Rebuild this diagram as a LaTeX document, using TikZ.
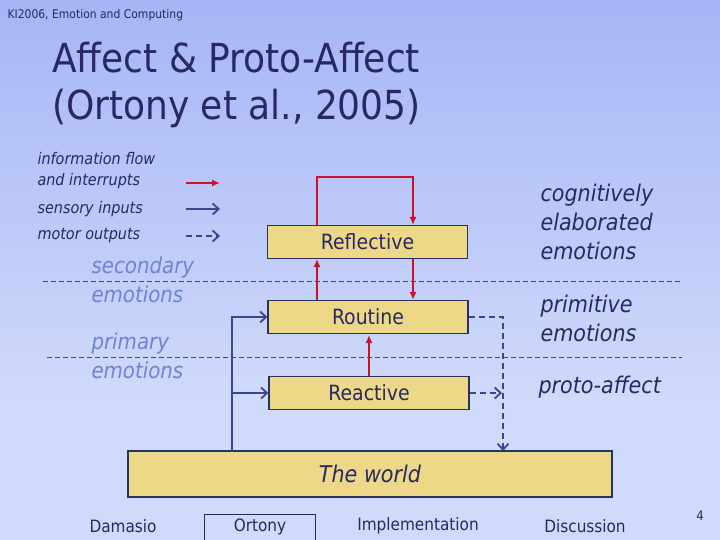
\documentclass[tikz,border=0pt]{standalone}
\usepackage{fontspec}
\setmainfont{DejaVu Sans Condensed}
\usetikzlibrary{arrows.meta}
\definecolor{bgtop}{RGB}{166,182,246}
\definecolor{bgbot}{RGB}{208,218,250}
\definecolor{boxf}{RGB}{236,216,134}
\definecolor{navy}{RGB}{40,40,100}
\definecolor{lite}{RGB}{110,130,215}
\definecolor{lnav}{RGB}{60,70,140}
\definecolor{redl}{RGB}{200,20,40}
\tikzset{
 lay/.style={draw=lnav!70!black,fill=boxf,line width=1.2pt,minimum height=33pt,inner sep=0pt,text=navy,font=\fontsize{21}{21}\selectfont},
 red/.style={draw=redl,line width=1.6pt,-{Latex[length=8pt,width=7pt]}},
 sens/.style={draw=lnav,line width=1.8pt,-{Straight Barb[length=6pt,width=11pt]}},
 mot/.style={draw=lnav,line width=1.8pt,dash pattern=on 6pt off 4pt,-{Straight Barb[length=6pt,width=11pt]}},
 leg/.style={text=navy,font=\itshape\fontsize{16}{21}\selectfont,anchor=west,align=left},
 rlab/.style={text=navy,font=\itshape\fontsize{23}{29}\selectfont,anchor=west,align=left},
 llab/.style={text=lite,font=\itshape\fontsize{22}{29}\selectfont,anchor=west,align=left},
 nav/.style={text=navy,font=\fontsize{17}{17}\selectfont},
 sep/.style={draw=lnav,line width=1pt,dash pattern=on 5pt off 3pt}
}
\begin{document}
\begin{tikzpicture}[x=1pt,y=-1pt]
\useasboundingbox (0,0) rectangle (720,540);
\fill[bgbot] (0,400) rectangle (720,540);
\shade[top color=bgtop,bottom color=bgbot] (0,0) rectangle (720,400);
\node[anchor=west,text=navy,font=\fontsize{12}{12}\selectfont] (hdr) at (4,15) {KI2006, Emotion and Computing};
\node[anchor=north west,text=navy,font=\fontsize{40}{47}\selectfont,align=left,inner sep=0pt] (title) at (52,42) {Affect \& Proto-Affect\\(Ortony et al., 2005)};
\node[leg] (l1) at (34,171) {information flow\\and interrupts};
\node[leg] (l2) at (34,209) {sensory inputs};
\node[leg] (l3) at (34,236) {motor outputs};
\coordinate (a1) at (186,183); \coordinate (b1) at (220,183);
\coordinate (a2) at (186,209); \coordinate (b2) at (220,209);
\coordinate (a3) at (186,236); \coordinate (b3) at (220,236);
\draw[red] (a1) -- (b1);
\draw[sens] (a2) -- (b2);
\draw[mot] (a3) -- (b3);
\coordinate (s1l) at (43,281); \coordinate (s1r) at (680,281);
\coordinate (s2l) at (47,357); \coordinate (s2r) at (682,357);
\draw[sep] (s1l) -- (s1r);
\draw[sep] (s2l) -- (s2r);
\node[llab] (sec) at (88,280) {secondary\\emotions};
\node[llab] (pri) at (88,356) {primary\\emotions};
\node[rlab] (cog) at (537,222) {cognitively\\elaborated\\emotions};
\node[rlab] (prim) at (537,318) {primitive\\emotions};
\node[rlab] (pa) at (535,387) {proto-affect};
\node[lay,minimum width=200pt] (refl) at (367.5,242) {Reflective};
\node[lay,minimum width=200pt] (rout) at (368,317) {Routine};
\node[lay,minimum width=200pt] (react) at (369,393) {Reactive};
\node[lay,minimum width=484pt,minimum height=46pt,font=\itshape\fontsize{23}{23}\selectfont] (world) at (370,474) {The world};
% red loops
\draw[red] (317,225) |- (413,177) -- (413,225);
\draw[red] (317,300) -- (317,259);
\draw[red] (413,259) -- (413,300);
\draw[red] (369,376) -- (369,335);
% sensory
\coordinate (sb) at (232,451);
\draw[sens] (sb) |- (rout.west);
\draw[sens] (232,393) -- (react.west);
% motor
\coordinate (mx) at (503,317);
\draw[mot] (rout.east) -- (mx) -- (503,451);
\draw[mot] (react.east) -- (502,393);
% navigation
\node[nav] (n1) at (123,526) {Damasio};
\node[nav,draw=navy,line width=1pt,minimum width=111pt,minimum height=26pt,inner sep=0pt] (n2) at (260,527) {Ortony};
\node[nav] (n3) at (418,526) {Implementation};
\node[nav] (n4) at (585,526) {Discussion};
\node[text=navy,font=\fontsize{13}{13}\selectfont] (pg) at (700,516) {4};
\end{tikzpicture}
\end{document}
